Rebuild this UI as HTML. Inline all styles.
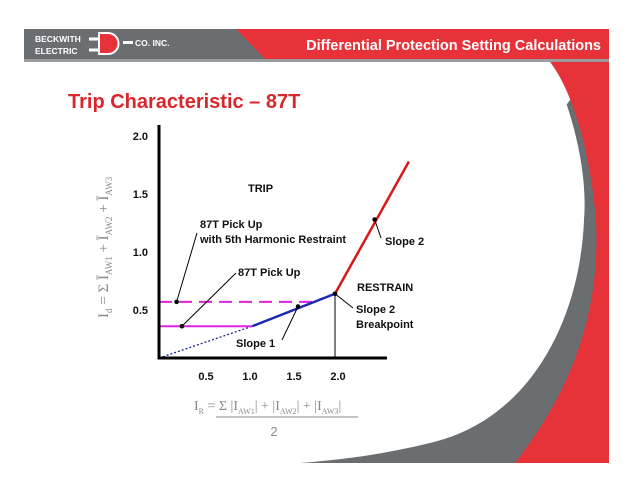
<!DOCTYPE html>
<html><head><meta charset="utf-8"><style>
body{margin:0;background:#fff;width:638px;height:493px;overflow:hidden;font-family:"Liberation Sans",sans-serif}
svg{position:absolute;left:0;top:0}
</style></head><body>
<svg width="638" height="493">
 <g>
  <path d="M570,100 L609,62 L609,463 L300,463 Z" fill="#6b6e71"/>
  <path d="M550,62 C572,90 590,150 596,220 C600,300 580,380 515,463 L609,463 L609,62 Z" fill="#e8323a"/>
  <path d="M550,62 C572,110 588,170 584,220 C580,320 530,420 430,443 C380,455 340,460 300,463 L24,463 L24,62 Z" fill="#fff"/>
 </g>
 <g>
  <rect x="24" y="29" width="585" height="31" fill="#6b6e71"/>
  <path d="M236,29 L609,29 L609,60 L266,60 Z" fill="#e8323a"/>
  <rect x="24" y="59" width="585" height="3" fill="#9a9c9e"/>
  <text x="35" y="42" font-size="8.5" font-weight="bold" fill="#fff">BECKWITH</text>
  <text x="35" y="54" font-size="8.5" font-weight="bold" fill="#fff">ELECTRIC</text>
  <path d="M89,39 H99 M89,50 H99 M123,42.5 H133" stroke="#fff" stroke-width="3"/>
  <path d="M99,33 H108 A10.5,10.5 0 0 1 108,54 H99 Z" fill="#e8323a" stroke="#fff" stroke-width="2"/>
  <text x="135" y="46" font-size="8.5" font-weight="bold" fill="#fff">CO. INC.</text>
  <text x="601" y="50" font-size="14.5" font-weight="bold" fill="#fff" text-anchor="end">Differential Protection Setting Calculations</text>
 </g>
 <text x="68" y="108" font-size="20" font-weight="bold" fill="#d9262c">Trip Characteristic – 87T</text>
 <g id="chart"></g>
 <g font-family="Liberation Serif,serif" fill="#8a8a8a" font-size="15">
  <text transform="translate(108,318) rotate(-90)">I<tspan font-size="9" dy="4">d</tspan><tspan dy="-4"> = Σ Ī</tspan><tspan font-size="9" dy="4">AW1</tspan><tspan dy="-4"> + Ī</tspan><tspan font-size="9" dy="4">AW2</tspan><tspan dy="-4"> + Ī</tspan><tspan font-size="9" dy="4">AW3</tspan></text>
 </g>
 <g fill="#8a8a8a">
  <text x="194" y="410" font-family="Liberation Serif,serif" font-size="14">I<tspan font-size="8" dy="4">R</tspan><tspan dy="-4"> = Σ |I</tspan><tspan font-size="8" dy="4">AW1</tspan><tspan dy="-4">| + |I</tspan><tspan font-size="8" dy="4">AW2</tspan><tspan dy="-4">| + |I</tspan><tspan font-size="8" dy="4">AW3</tspan><tspan dy="-4">|</tspan></text>
  <line x1="216" y1="417" x2="358" y2="417" stroke="#8a8a8a" stroke-width="1"/>
  <text x="274" y="436" font-size="13" text-anchor="middle">2</text>
 </g>
</svg>
<script>
const xTicks=[0.5,1.0,1.5,2.0];
const yTicks=[0.5,1.0,1.5,2.0];
const pickup=[0.36];
const pickup5th=[0.57];
const slope1X=[1.06,2.0];
const slope1Y=[0.36,0.64];
const slope2X=[2.0,2.84];
const slope2Y=[0.64,1.78];
const dottedX=[0,1.06];
const dottedY=[0.086,0.36];
const X=v=>159+88*v, Y=v=>368-116*v;
const NS='http://www.w3.org/2000/svg', g=document.getElementById('chart');
function mk(t,a){const e=document.createElementNS(NS,t);for(const k in a)e.setAttribute(k,a[k]);g.appendChild(e);return e;}
function txt(x,y,s,anchor){const e=mk('text',{x:x,y:y,'font-size':11,'font-weight':'bold',fill:'#111','text-anchor':anchor||'start'});e.textContent=s;return e;}
let e;
e=mk('line',{x1:X(0),y1:358,x2:X(dottedX[1]),y2:Y(dottedY[1]),stroke:'#1a2a9a','stroke-width':1.3,'stroke-dasharray':'2,2'});


e=mk('line',{x1:X(0),y1:Y(pickup5th[0]),x2:X(1.75),y2:Y(pickup5th[0]),stroke:'#e020e0','stroke-width':2,'stroke-dasharray':'13,7'});


e=mk('line',{x1:X(0),y1:Y(pickup[0]),x2:X(slope1X[0]),y2:Y(pickup[0]),stroke:'#e020e0','stroke-width':2});


e=mk('line',{x1:X(slope1X[0]),y1:Y(slope1Y[0]),x2:X(slope1X[1]),y2:Y(slope1Y[1]),stroke:'#1a2ab0','stroke-width':2.5});


e=mk('line',{x1:X(slope2X[0]),y1:Y(slope2Y[0]),x2:X(slope2X[1]),y2:Y(slope2Y[1]),stroke:'#d81818','stroke-width':2.5});


e=mk('line',{x1:X(2),y1:Y(slope1Y[1]),x2:X(2),y2:358,stroke:'#000','stroke-width':1});


e=mk('path',{d:'M159,125 V358 H387',stroke:'#000','stroke-width':3,fill:'none'});


xTicks.forEach(v=>{const t=txt(X(v)+3,380,v.toFixed(1),'middle');

});
yTicks.forEach(v=>{const t=txt(148,Y(v)+4,v.toFixed(1),'end');

});
const dots=[[X(0.2),Y(pickup5th[0]),197,233],[X(0.26),Y(pickup[0]),236,273],[X(1.58),Y(0.53),282,340],[X(2),Y(slope1Y[1]),353,308],[X(2.45),Y(1.28),381,238]];
dots.forEach(d=>{e=mk('line',{x1:d[0],y1:d[1],x2:d[2],y2:d[3],stroke:'#000','stroke-width':1});


e=mk('circle',{cx:d[0],cy:d[1],r:2.3,fill:'#000'});

});
const labels=[[248,192,'TRIP','trip-label'],[200,228,'87T Pick Up','pickup5-label-1'],[200,243,'with 5th Harmonic Restraint','pickup5-label-2'],[238,276,'87T Pick Up','pickup-label'],[357,291,'RESTRAIN','restrain-label'],[385,245,'Slope 2','slope2-label'],[356,313,'Slope 2','breakpoint-label-1'],[356,328,'Breakpoint','breakpoint-label-2'],[236,347,'Slope 1','slope1-label']];
labels.forEach(l=>{const t=txt(l[0],l[1],l[2]);

});
</script>
</body></html>
